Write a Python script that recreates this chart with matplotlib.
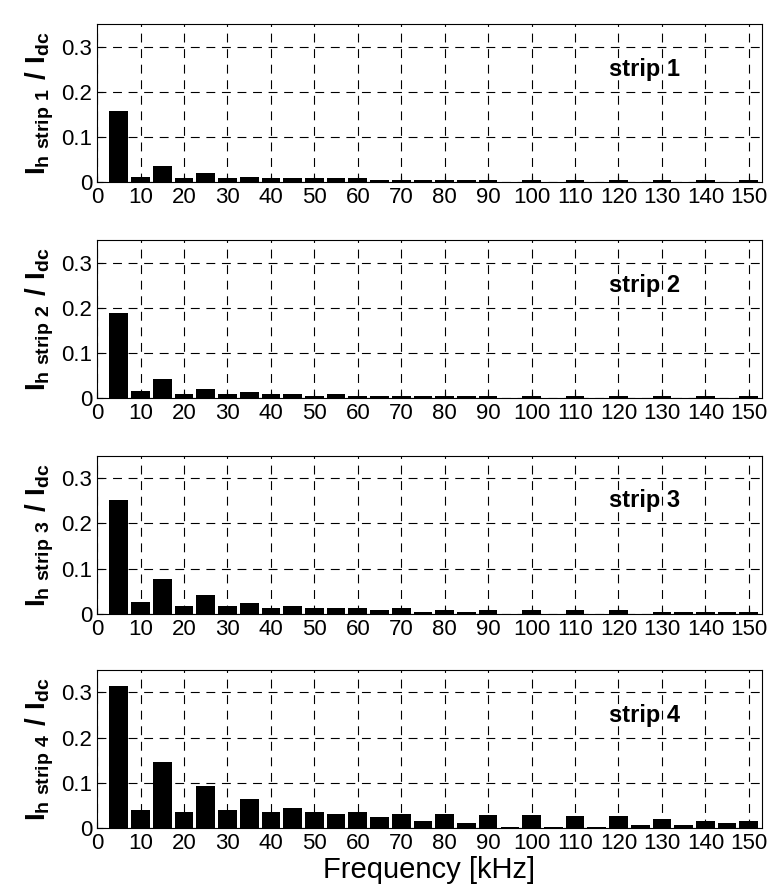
import matplotlib
matplotlib.use("Agg")
import matplotlib.pyplot as plt
import numpy as np

freqs = list(range(5, 155, 5))
strip1 = [0.157,0.012,0.036,0.009,0.020,0.009,0.011,0.009,0.009,0.009,0.009,0.009,0.004,0.004,0.004,0.004,0.004,0.004,0.0,0.004,0.0,0.004,0.0,0.004,0.0,0.004,0.0,0.004,0.0,0.004]
strip2 = [0.189,0.016,0.042,0.009,0.020,0.009,0.013,0.009,0.009,0.004,0.009,0.004,0.004,0.004,0.004,0.004,0.004,0.004,0.0,0.004,0.0,0.004,0.0,0.004,0.0,0.004,0.0,0.004,0.0,0.004]
strip3 = [0.252,0.025,0.077,0.018,0.042,0.018,0.024,0.013,0.018,0.013,0.013,0.013,0.009,0.013,0.004,0.009,0.004,0.009,0.0,0.009,0.0,0.009,0.0,0.009,0.0,0.004,0.004,0.004,0.004,0.004]
strip4 = [0.315,0.040,0.145,0.035,0.092,0.040,0.064,0.035,0.044,0.035,0.031,0.035,0.024,0.031,0.016,0.031,0.011,0.029,0.002,0.029,0.002,0.025,0.002,0.025,0.007,0.020,0.007,0.016,0.011,0.016]
series = [strip1, strip2, strip3, strip4]
names = ["strip 1", "strip 2", "strip 3", "strip 4"]
xticks = list(range(0, 151, 10))
yticks = [0, 0.1, 0.2, 0.3]

plt.rcParams['font.family'] = ['Liberation Sans', 'DejaVu Sans']
plt.rcParams['mathtext.fontset'] = 'custom'
plt.rcParams['mathtext.bf'] = 'Liberation Sans:bold'
plt.rcParams['mathtext.rm'] = 'Liberation Sans'

fig = plt.figure(figsize=(7.83, 8.92), dpi=100)
bottoms = [0.796, 0.554, 0.312, 0.072]
for i, (vals, name, b) in enumerate(zip(series, names, bottoms)):
    ax = fig.add_axes([0.124, b, 0.849, 0.177])
    ax.bar(freqs, vals, width=4.3, color='black', zorder=3)
    ax.set_xlim(0, 153)
    ax.set_ylim(0, 0.35)
    ax.set_xticks(xticks)
    ax.set_yticks(yticks)
    ax.set_yticklabels(["0", "0.1", "0.2", "0.3"])
    ax.tick_params(labelsize=16, direction='in', length=4)
    ax.grid(True, color='black', linestyle=(0, (8, 6)), linewidth=0.8, zorder=1)
    n = i + 1
    ax.set_ylabel(r'$\mathbf{I_{h\ strip\ %d}\ /\ I_{dc}}$' % n, fontsize=20, labelpad=4)
    ax.text(126, 0.25, name, fontsize=17, fontweight='bold', ha='center', va='center')
    if i == 3:
        ax.set_xlabel("Frequency [kHz]", fontsize=21, labelpad=2)

fig.savefig("out.png", dpi=100)
